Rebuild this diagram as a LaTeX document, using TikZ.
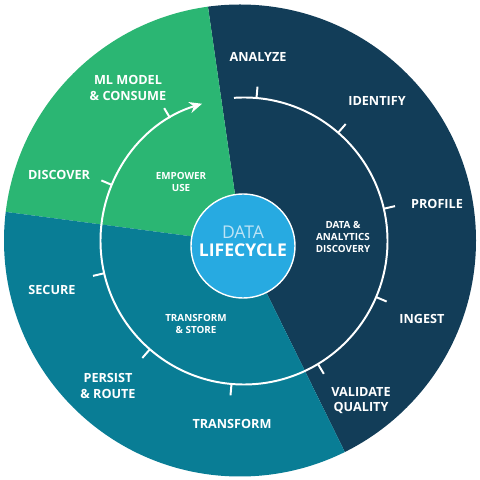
\documentclass[tikz,border=0pt]{standalone}
\usepackage{fontspec}
\setmainfont{Open Sans}
\usetikzlibrary{arrows.meta}
\definecolor{lcgreen}{RGB}{43,182,115}
\definecolor{lcnavy}{RGB}{18,61,88}
\definecolor{lcteal}{RGB}{9,125,149}
\definecolor{lcblue}{RGB}{39,170,225}
\definecolor{lcpale}{RGB}{190,228,246}

\begin{document}
\begin{tikzpicture}[x=0.025cm, y=0.025cm,
  stage/.style={text=white, font=\bfseries\fontsize{9}{10.7}\selectfont, align=center},
  phase/.style={text=white, font=\bfseries\fontsize{7}{8.5}\selectfont, align=center},
  ring/.style={white, line width=1.4pt},
  notch/.style={white, line width=1.4pt}
]
\useasboundingbox (0,0) rectangle (480,480);

% three sectors, clipped to the outer disc
\begin{scope}
  \clip (240,239.5) circle[radius=236];
  \coordinate (c) at (242,237);
  \fill[lcnavy] (c) -- ++(-63.8:400) arc[start angle=-63.8, end angle=98.2, radius=400] -- cycle;
  \fill[lcgreen] (c) -- ++(98.2:400) arc[start angle=98.2, end angle=172.5, radius=400] -- cycle;
  \fill[lcteal] (c) -- ++(172.5:400) arc[start angle=172.5, end angle=296.2, radius=400] -- cycle;
\end{scope}

% cycle ring with notches
\begin{scope}[shift={(244,239)}]
  \draw[ring, -{Stealth[length=9pt, width=8pt]}] (94:143.5) arc[start angle=94, end angle=-253, radius=143.5];
  \foreach \a in {85,49,13,-23,-59,-95,-131,-167,-203,-239} {
    \draw[notch] (\a:143.5) -- (\a:155);
  }
\end{scope}

% hub
\node[circle, fill=lcblue, draw=white, line width=1pt, minimum size=2.6cm] (hub) at (243,234) {};
\node[text=lcpale, font=\fontsize{12.5}{14}\selectfont] (hubtop) at (243,248) {DATA};
\node[text=white, font=\bfseries\fontsize{12.5}{14}\selectfont] (hubname) at (243,230) {LIFECYCLE};

% inner phases
\node[phase] (empower) at (181,298) {EMPOWER\\USE};
\node[phase] (discovery) at (343,243) {DATA \&\\ANALYTICS\\DISCOVERY};
\node[phase] (store) at (196,156) {TRANSFORM\\\& STORE};

% outer stages
\node[stage] (analyze) at (258,423) {ANALYZE};
\node[stage] (identify) at (377,379) {IDENTIFY};
\node[stage] (profile) at (437,276) {PROFILE};
\node[stage] (ingest) at (422,161) {INGEST};
\node[stage] (validate) at (361,79) {VALIDATE\\QUALITY};
\node[stage] (transform) at (232,56) {TRANSFORM};
\node[stage] (persist) at (108,94) {PERSIST\\\& ROUTE};
\node[stage] (secure) at (52,190) {SECURE};
\node[stage] (discover) at (59,305) {DISCOVER};
\node[stage] (mlmodel) at (128,392) {ML MODEL\\\& CONSUME};
\end{tikzpicture}
\end{document}
